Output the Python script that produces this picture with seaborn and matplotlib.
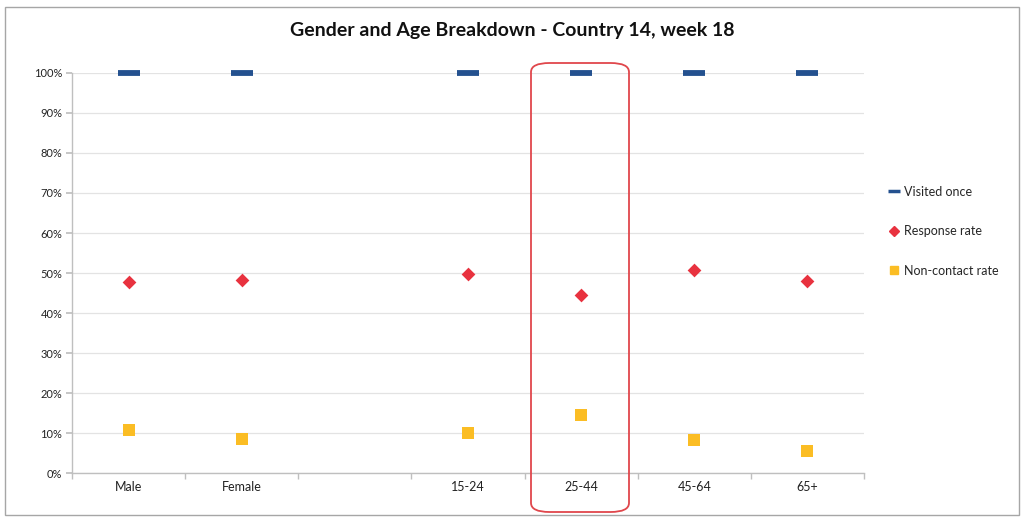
import pandas as pd
import matplotlib
matplotlib.use("Agg")
import matplotlib.pyplot as plt
import seaborn as sns
from matplotlib.patches import FancyBboxPatch, Rectangle
from matplotlib.lines import Line2D
from matplotlib.ticker import PercentFormatter, FixedLocator

# Data
categories = ["Male", "Female", " ", "15-24", "25-44", "45-64", "65+"]
groups = ["Male", "Female", "15-24", "25-44", "45-64", "65+"]
visited_once = [1.00, 1.00, 1.00, 1.00, 1.00, 1.00]
response_rate = [0.478, 0.483, 0.497, 0.445, 0.507, 0.481]
non_contact_rate = [0.107, 0.086, 0.101, 0.146, 0.083, 0.055]

df = pd.DataFrame({"group": groups,
                   "Visited once": visited_once,
                   "Response rate": response_rate,
                   "Non-contact rate": non_contact_rate})

blue = "#24518F"
red = "#E8323F"
yellow = "#FBBD24"

sns.set_theme(style="white")
plt.rcParams["font.family"] = ["Lato", "DejaVu Sans"]

fig = plt.figure(figsize=(10.24, 5.21), dpi=100)
ax = fig.add_axes([0.0703, 0.0921, 0.7734, 0.7678])

sns.stripplot(data=df, x="group", y="Visited once", order=categories, jitter=False,
              marker="_", size=15.5, linewidth=4.2, color=blue, edgecolor=blue, ax=ax,
              zorder=5)
sns.stripplot(data=df, x="group", y="Response rate", order=categories, jitter=False,
              marker="D", size=7, color=red, linewidth=0, ax=ax, zorder=5)
sns.stripplot(data=df, x="group", y="Non-contact rate", order=categories, jitter=False,
              marker="s", size=8, color=yellow, linewidth=0, ax=ax, zorder=5)

for c in ax.collections:
    c.set_clip_on(False)

ax.set_ylim(0, 1.0)
ax.set_xlim(-0.5, len(categories) - 0.5)
ax.yaxis.set_major_locator(FixedLocator([i / 10 for i in range(11)]))
ax.yaxis.set_major_formatter(PercentFormatter(1.0, decimals=0))
ax.grid(axis="y", color="#E3E3E3", linewidth=0.9)
ax.set_axisbelow(True)
ax.set_xlabel("")
ax.set_ylabel("")

ax.xaxis.set_minor_locator(FixedLocator([i - 0.5 for i in range(len(categories) + 1)]))
ax.tick_params(axis="x", which="major", length=0, labelsize=9, colors="#222222", pad=6)
ax.tick_params(axis="x", which="minor", length=4, color="#BFBFBF", direction="out", bottom=True)
ax.tick_params(axis="y", length=4, color="#BFBFBF", direction="out", left=True,
               labelsize=8, labelcolor="#222222", pad=3)

for side in ["top", "right"]:
    ax.spines[side].set_visible(False)
for side in ["left", "bottom"]:
    ax.spines[side].set_color("#BFBFBF")
    ax.spines[side].set_linewidth(1)

fig.text(0.5, 0.942, "Gender and Age Breakdown - Country 14, week 18",
         ha="center", va="center", fontsize=14, fontweight="bold", color="#111111")

handles = [
    Line2D([], [], linestyle="none", marker="_", markersize=8, markeredgewidth=2.5, color=blue),
    Line2D([], [], linestyle="none", marker="D", markersize=5, color=red),
    Line2D([], [], linestyle="none", marker="s", markersize=6, color=yellow),
]
fig.legend(handles, ["Visited once", "Response rate", "Non-contact rate"],
           loc="upper left", bbox_to_anchor=(0.857, 0.665), frameon=False,
           fontsize=9, labelspacing=2.2, handlelength=0.8, handletextpad=0.4)

# outer chart border
fig.patches.append(Rectangle((0.005, 0.012), 0.990, 0.975, transform=fig.transFigure,
                             fill=False, edgecolor="#A6A6A6", linewidth=1))
# highlight box around 25-44
fig.patches.append(FancyBboxPatch((531 / 1024, 1 - 512 / 521), 98 / 1024, 449 / 521,
                                  boxstyle="round,pad=0,rounding_size=0.018",
                                  transform=fig.transFigure, fill=False,
                                  edgecolor="#E0474C", linewidth=1.3, zorder=10,
                                  mutation_aspect=521 / 1024 * 1.9))

fig.savefig("out.png", dpi=100)
